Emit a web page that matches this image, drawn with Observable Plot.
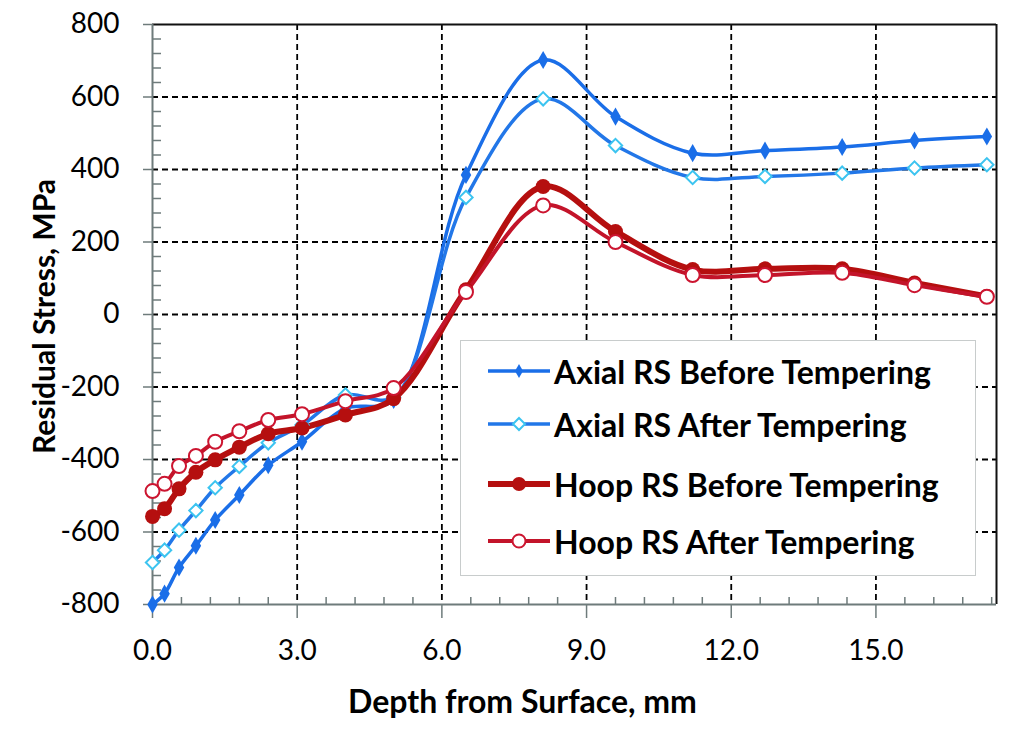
<!DOCTYPE html>
<html>
<head>
<meta charset="utf-8">
<script src="https://cdn.jsdelivr.net/npm/d3@7"></script>
<script src="https://cdn.jsdelivr.net/npm/@observablehq/plot@0.6"></script>
<style>
  html, body { margin: 0; padding: 0; background: #fff; }
  #wrap { position: relative; width: 1024px; height: 735px; overflow: hidden; }
  #legend {
    position: absolute; left: 460px; top: 340px; width: 516px; height: 236px;
    border: 1.5px solid #c8cccc; background: #fff; box-sizing: border-box;
    font-family: Lato, "Open Sans", sans-serif; font-weight: bold; font-size: 32px; color: #000;
  }
  .row { position: absolute; left: 0; height: 40px; display: flex; align-items: center; white-space: nowrap; }
  .row svg { margin-left: 27px; margin-right: 4px; }
</style>
</head>
<body>
<div id="wrap"></div>
<script>
// Depth below the surface (mm) at each measurement point
const depth = [0, 0.25, 0.55, 0.9, 1.3, 1.8, 2.4, 3.1, 4.0, 5.0, 6.5, 8.1, 9.6, 11.2, 12.7, 14.3, 15.8, 17.3];

// Residual stress (MPa) for each series
const axialBefore = [-800, -770, -698, -638, -567, -498, -416, -351, -259, -236, 385, 702, 546, 445, 452, 462, 480, 491];
const axialAfter  = [-684, -650, -595, -541, -478, -419, -354, -305, -222, -228, 323, 595, 466, 378, 381, 390, 404, 413];
const hoopBefore  = [-557, -536, -481, -435, -401, -366, -329, -313, -277, -232, 68, 353, 229, 124, 126, 126, 87, 50];
const hoopAfter   = [-487, -467, -418, -390, -351, -322, -291, -275, -239, -203, 62, 301, 200, 109, 109, 115, 81, 49];

const seriesNames = [
  "Axial RS Before Tempering",
  "Axial RS After Tempering",
  "Hoop RS Before Tempering",
  "Hoop RS After Tempering"
];

// Axis settings
const xDomain = [0, 17.5];
const yDomain = [-800, 800];
const xTicks = [0, 3, 6, 9, 12, 15];
const yTicks = [-800, -600, -400, -200, 0, 200, 400, 600, 800];
const xGrid = [3, 6, 9, 12, 15];
const yGrid = [-600, -400, -200, 0, 200, 400, 600];
const xMinor = d3.range(0.6, 17.5, 0.6).filter(v => Math.abs(v / 3 - Math.round(v / 3)) > 1e-6);
const yMinor = d3.range(-760, 800, 40).filter(v => v % 200 !== 0);

const xTitle = "Depth from Surface, mm";
const yTitle = "Residual Stress, MPa";

// Styles per series
const styles = [
  {line: "#1a6ee8", width: 3.5, symbol: "diamond",  r: 5.5, fill: "#1a6ee8", stroke: "none",    sw: 0},
  {line: "#2277e8", width: 3.5, symbol: "diamond2", r: 6,   fill: "#ffffff", stroke: "#3cc4f0", sw: 2},
  {line: "#b50f0f", width: 6,   symbol: "circle",   r: 7.5, fill: "#b50f0f", stroke: "none",    sw: 0},
  {line: "#c3142a", width: 4,   symbol: "circle",   r: 7,   fill: "#ffffff", stroke: "#cc1530", sw: 2}
];

const values = [axialBefore, axialAfter, hoopBefore, hoopAfter];
const rows = values.map((vals, i) => vals.map((v, j) => ({series: seriesNames[i], depth: depth[j], stress: v})));

const W = 1024, H = 735, mL = 152, mR = 28, mT = 24, mB = 131;
const frameW = W - mL - mR, frameH = H - mT - mB;
const axisGray = "#6e7b7b";

const marks = [
  // dashed grid
  Plot.ruleY(yGrid, {stroke: "#000", strokeWidth: 1.8, strokeDasharray: "6,4"}),
  Plot.ruleX(xGrid, {stroke: "#000", strokeWidth: 1.8, strokeDasharray: "6,4"}),
  // frame: dark top/right, gray axes at left/bottom
  Plot.ruleY([yDomain[1]], {stroke: "#111", strokeWidth: 2}),
  Plot.ruleX([xDomain[1]], {stroke: "#111", strokeWidth: 2}),
  Plot.ruleX([xDomain[0]], {stroke: axisGray, strokeWidth: 2}),
  Plot.ruleY([yDomain[0]], {stroke: axisGray, strokeWidth: 2}),
  // minor ticks pointing into the plot
  Plot.tickY(yMinor, {y: d => d, insetRight: frameW - 9, stroke: axisGray, strokeWidth: 1.5}),
  Plot.tickX(xMinor, {x: d => d, insetTop: frameH - 7, stroke: axisGray, strokeWidth: 1.5}),
  // major axes
  Plot.axisX({ticks: xTicks, tickSize: 14, tickPadding: 22, tickFormat: d => d.toFixed(1),
              stroke: axisGray, strokeWidth: 1.5, fontSize: 28, label: null}),
  Plot.axisY({ticks: yTicks, tickSize: 9, tickPadding: 24, tickFormat: d => String(d),
              stroke: axisGray, strokeWidth: 1.5, fontSize: 28, label: null}),
  // axis titles
  Plot.text([yTitle], {frameAnchor: "left", textAnchor: "middle", dx: -107, dy: 2, rotate: -90,
                       fontWeight: "bold", fontSize: 30}),
  Plot.text([xTitle], {frameAnchor: "bottom", textAnchor: "middle", dx: -52, dy: 108,
                       fontWeight: "bold", fontSize: 32})
];

rows.forEach((data, i) => {
  const s = styles[i];
  marks.push(Plot.line(data, {x: "depth", y: "stress", stroke: s.line, strokeWidth: s.width, curve: "catmull-rom"}));
});
rows.forEach((data, i) => {
  const s = styles[i];
  marks.push(Plot.dot(data, {x: "depth", y: "stress", symbol: () => s.symbol, r: s.r,
    fill: s.fill, stroke: s.stroke, strokeWidth: s.sw}));
});

const chart = Plot.plot({
  width: W, height: H,
  marginLeft: mL, marginRight: mR, marginTop: mT, marginBottom: mB,
  x: {domain: xDomain},
  y: {domain: yDomain},
  symbol: {type: "identity"},
  style: {fontFamily: "Lato, 'Open Sans', sans-serif", fontSize: "28px", color: "#000", background: "#fff"},
  marks
});

const wrap = document.getElementById("wrap");
wrap.appendChild(chart);

// legend box inside the plot area
const legend = document.createElement("div");
legend.id = "legend";
const rowTops = [10, 63, 123, 180];
seriesNames.forEach((name, i) => {
  const s = styles[i];
  const row = document.createElement("div");
  row.className = "row";
  row.style.top = rowTops[i] + "px";
  const marker = s.symbol === "circle"
    ? `<circle cx="31" cy="12" r="${s.r - 0.5}" fill="${s.fill}" stroke="${s.stroke}" stroke-width="${s.sw}"/>`
    : s.symbol === "diamond"
      ? `<path d="M31,5 L35,12 L31,19 L27,12 Z" fill="${s.fill}"/>`
      : `<path d="M31,6 L37,12 L31,18 L25,12 Z" fill="${s.fill}" stroke="${s.stroke}" stroke-width="${s.sw}"/>`;
  row.innerHTML = `<svg width="62" height="24"><line x1="0" y1="12" x2="62" y2="12" stroke="${s.line}" stroke-width="${s.width}"/>${marker}</svg><span>${name}</span>`;
  legend.appendChild(row);
});
wrap.appendChild(legend);
</script>
</body>
</html>
